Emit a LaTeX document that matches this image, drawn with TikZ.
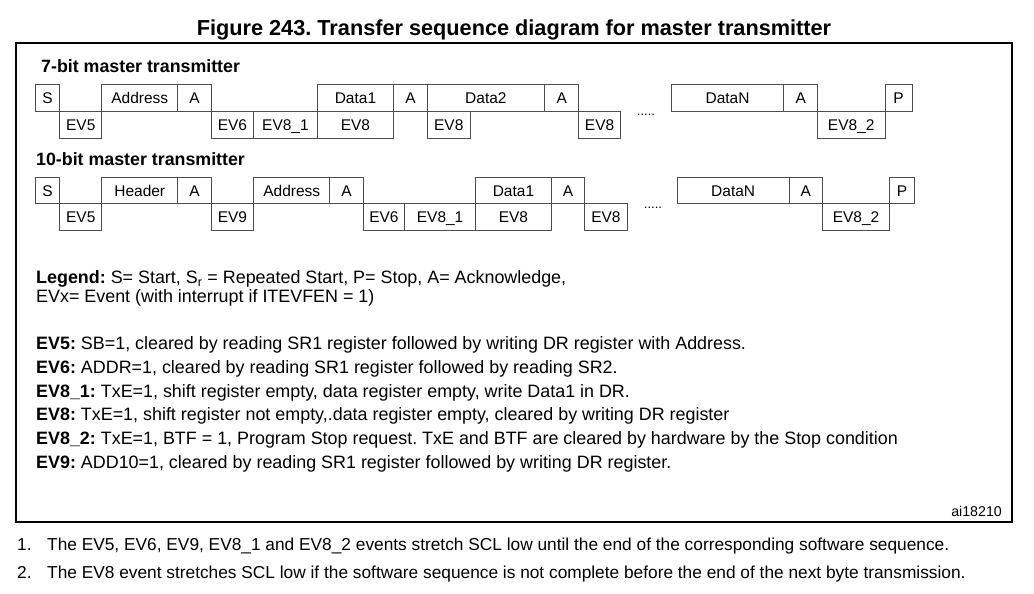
\documentclass[tikz,border=0pt]{standalone}
\usepackage{fontspec}
\setmainfont{Liberation Sans}
\frenchspacing
\definecolor{cellgray}{gray}{0.3}
\tikzset{
  cell/.style={draw=cellgray, line width=0.9pt, inner sep=0pt, minimum height=26.7pt,
    anchor=north west, text height=11.1pt, text depth=0pt,
    font=\fontsize{15.5}{18}\selectfont},
  rowlabel/.style={anchor=base west, inner sep=0pt, font=\fontsize{17.8}{20}\selectfont\bfseries},
  legline/.style={anchor=base west, inner sep=0pt, font=\fontsize{17.9}{20}\selectfont},
  noteline/.style={anchor=base west, inner sep=0pt, font=\fontsize{17.3}{20}\selectfont},
  gapdots/.style={anchor=base, inner sep=0pt, font=\fontsize{13}{14}\selectfont}
}
\begin{document}
\begin{tikzpicture}[x=1pt,y=-1pt]
\useasboundingbox (0,0) rectangle (1034,594);
\node[anchor=base, inner sep=0pt, font=\fontsize{21.7}{24}\selectfont\bfseries] (title) at (514,36) {Figure 243. Transfer sequence diagram for master transmitter};
\draw[line width=1.2pt] (16,43) rectangle (1012,522);
% 7-bit
\node[rowlabel] (lab7) at (41,73) {7-bit master transmitter};
\node[cell, minimum width=24.3] (s7) at (35,84) {S};
\node[cell, minimum width=42] (evfive7) at (59.3,111) {EV5};
\node[cell, minimum width=76] (addr7) at (101.3,84) {Address};
\node[cell, minimum width=33.4] (ackA7) at (177.3,84) {A};
\node[cell, minimum width=42.6] (evsix7) at (210.7,111) {EV6};
\node[cell, minimum width=63.4] (evone7) at (253.3,111) {EV8\_1};
\node[cell, minimum width=76.6] (dataone7) at (316.7,84) {Data1};
\node[cell, minimum width=76.6] (evdone7) at (316.7,111) {EV8};
\node[cell, minimum width=33.4] (ackB7) at (393.3,84) {A};
\node[cell, minimum width=117.5] (datatwo7) at (426.7,84) {Data2};
\node[cell, minimum width=43.3] (evdtwo7) at (426.7,111) {EV8};
\node[cell, minimum width=34.1] (ackC7) at (544.2,84) {A};
\node[cell, minimum width=41.7] (evdthree7) at (578.3,111) {EV8};
\node[gapdots] (dots7) at (646,115) {.....};
\node[cell, minimum width=112.6] (datan7) at (670.8,84) {DataN};
\node[cell, minimum width=33.7] (ackN7) at (783.4,84) {A};
\node[cell, minimum width=67.4] (evtwo7) at (817.1,111) {EV8\_2};
\node[cell, minimum width=27.2] (stop7) at (884.5,84) {P};
% 10-bit
\node[rowlabel] (lab10) at (36,165.5) {10-bit master transmitter};
\node[cell, minimum width=24.3] (s10) at (35,176.7) {S};
\node[cell, minimum width=42] (evfive10) at (59.3,203.3) {EV5};
\node[cell, minimum width=76] (header10) at (101.3,176.7) {Header};
\node[cell, minimum width=33.4] (ackA10) at (177.3,176.7) {A};
\node[cell, minimum width=42.6] (evnine10) at (210.7,203.3) {EV9};
\node[cell, minimum width=76] (addr10) at (253.3,176.7) {Address};
\node[cell, minimum width=33.4] (ackB10) at (329.3,176.7) {A};
\node[cell, minimum width=41.6] (evsix10) at (362.7,203.3) {EV6};
\node[cell, minimum width=70.7] (evone10) at (404.3,203.3) {EV8\_1};
\node[cell, minimum width=76] (dataone10) at (475,176.7) {Data1};
\node[cell, minimum width=76] (evdone10) at (475,203.3) {EV8};
\node[cell, minimum width=33.4] (ackC10) at (551,176.7) {A};
\node[cell, minimum width=42.2] (evdtwo10) at (584.4,203.3) {EV8};
\node[gapdots] (dots10) at (653,208) {.....};
\node[cell, minimum width=111.5] (datan10) at (677,176.7) {DataN};
\node[cell, minimum width=33.7] (ackN10) at (788.5,176.7) {A};
\node[cell, minimum width=66.8] (evtwo10) at (822.2,203.3) {EV8\_2};
\node[cell, minimum width=25.4] (stop10) at (889,176.7) {P};
% legend
\node[legline] (leg1) at (36,283.5) {\textbf{Legend:} S= Start, S\textsubscript{r} = Repeated Start, P= Stop, A= Acknowledge,};
\node[legline] (leg2) at (36,302) {EVx= Event (with interrupt if ITEVFEN = 1)};
\node[legline] (ev5) at (36,349.5) {\textbf{EV5:} SB=1, cleared by reading SR1 register followed by writing DR register with Address.};
\node[legline] (ev6) at (36,373.3) {\textbf{EV6:} ADDR=1, cleared by reading SR1 register followed by reading SR2.};
\node[legline] (ev81) at (36,397.1) {\textbf{EV8\_1:} TxE=1, shift register empty, data register empty, write Data1 in DR.};
\node[legline] (ev8) at (36,420.9) {\textbf{EV8:} TxE=1, shift register not empty,.data register empty, cleared by writing DR register};
\node[legline] (ev82) at (36,444.7) {\textbf{EV8\_2:} TxE=1, BTF = 1, Program Stop request. TxE and BTF are cleared by hardware by the Stop condition};
\node[legline] (ev9) at (36,468.5) {\textbf{EV9:} ADD10=1, cleared by reading SR1 register followed by writing DR register.};
\node[anchor=base east, inner sep=0pt, font=\fontsize{14.2}{16}\selectfont] (ref) at (1002,516) {ai18210};
% notes
\node[noteline] (num1) at (17,550) {1.};
\node[noteline] (note1) at (47,550) {The EV5, EV6, EV9, EV8\_1 and EV8\_2 events stretch SCL low until the end of the corresponding software sequence.};
\node[noteline] (num2) at (17,578) {2.};
\node[noteline] (note2) at (47,578) {The EV8 event stretches SCL low if the software sequence is not complete before the end of the next byte transmission.};
\end{tikzpicture}
\end{document}
